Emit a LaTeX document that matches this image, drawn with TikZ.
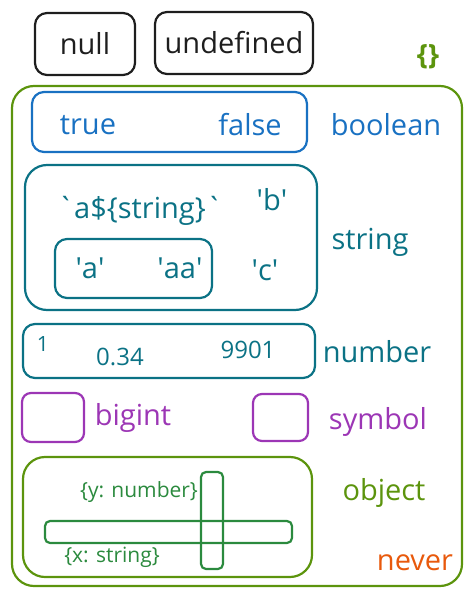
\documentclass[tikz,border=0pt]{standalone}
\usepackage{fontspec}
\setmainfont{Open Sans}
\definecolor{cblack}{HTML}{1E1E1E}
\definecolor{cgreen}{HTML}{5C940D}
\definecolor{cblue}{HTML}{1971C2}
\definecolor{cteal}{HTML}{0B7285}
\definecolor{cpurple}{HTML}{9C36B5}
\definecolor{cdgreen}{HTML}{2B8A3E}
\definecolor{corange}{HTML}{E8590C}
\newcommand\fsz[1]{\fontsize{#1}{#1}\selectfont}
\newcommand\sq{\textquotesingle}
\tikzset{
  rbox/.style={draw, line width=2.2pt, rounded corners=#1, inner sep=0pt},
  rbox/.default=12pt,
  lbl/.style={inner sep=0pt, font=\fsz{29}},
  sml/.style={inner sep=0pt, font=\fsz{21}},
  num/.style={inner sep=0pt, font=\fsz{24}},
}
\begin{document}
\begin{tikzpicture}[x=1pt,y=-1pt]
\useasboundingbox (0,0) rectangle (474,601);
% top boxes
\node[rbox, cblack, minimum width=100pt, minimum height=62pt, font=\fsz{29}] (null) at (85,44) {null};
\node[rbox, cblack, minimum width=158pt, minimum height=62pt, font=\fsz{29}] (undef) at (234,43) {undefined};
\node[lbl, text=cgreen, font=\bfseries\fsz{28}] (braces) at (428,57) {\{\}};
% outer object box
\node[rbox=22pt, cgreen, minimum width=450pt, minimum height=500pt] (outer) at (237,336) {};
% boolean
\node[rbox, cblue, minimum width=275pt, minimum height=60pt] (boolbox) at (169.5,122) {};
\node[lbl, text=cblue] (true) at (88,125) {true};
\node[lbl, text=cblue] (false) at (250,125) {false};
\node[lbl, text=cblue] (boolean) at (386,125) {boolean};
% string
\node[rbox=22pt, cteal, minimum width=292pt, minimum height=145pt] (strbox) at (171,237.5) {};
\node[rbox, cteal, minimum width=157pt, minimum height=59pt] (inbox) at (133.5,268.5) {};
\node[lbl, text=cteal] (tmpl) at (140,211) {\textasciigrave a\$\{string\}\textasciigrave};
\node[lbl, text=cteal] (b) at (272,200) {\sq b\sq};
\node[lbl, text=cteal] (a) at (90,268) {\sq a\sq};
\node[lbl, text=cteal] (aa) at (180,268) {\sq aa\sq};
\node[lbl, text=cteal] (c) at (265,270) {\sq c\sq};
\node[lbl, text=cteal] (string) at (370,242) {string};
% number
\node[rbox, cteal, minimum width=292pt, minimum height=54pt] (numbox) at (169,351) {};
\node[sml, text=cteal] (one) at (43,344) {1};
\node[num, text=cteal] (p34) at (120,357) {0.34};
\node[num, text=cteal] (n9901) at (248,350) {9901};
\node[lbl, text=cteal] (number) at (377,352) {number};
% bigint / symbol
\node[rbox=9pt, cpurple, minimum width=62pt, minimum height=49pt] (bigbox) at (53,417.5) {};
\node[lbl, text=cpurple] (bigint) at (133,418) {bigint};
\node[rbox=9pt, cpurple, minimum width=55pt, minimum height=47pt] (symbox) at (280.5,417.5) {};
\node[lbl, text=cpurple] (symbol) at (378,422) {symbol};
% object
\node[rbox=22pt, cgreen, minimum width=289pt, minimum height=120pt] (objbox) at (167.5,517) {};
\node[rbox=5pt, cdgreen, minimum width=247pt, minimum height=22pt] (hbar) at (168.5,532) {};
\node[rbox=5pt, cdgreen, minimum width=22pt, minimum height=97pt] (vbar) at (212,520.5) {};
\node[sml, text=cdgreen] (ynum) at (139,492) {\{y: number\}};
\node[sml, text=cdgreen] (xstr) at (112,557) {\{x: string\}};
\node[lbl, text=cgreen] (object) at (384,493) {object};
\node[lbl, text=corange] (never) at (415,563) {never};
\end{tikzpicture}
\end{document}
